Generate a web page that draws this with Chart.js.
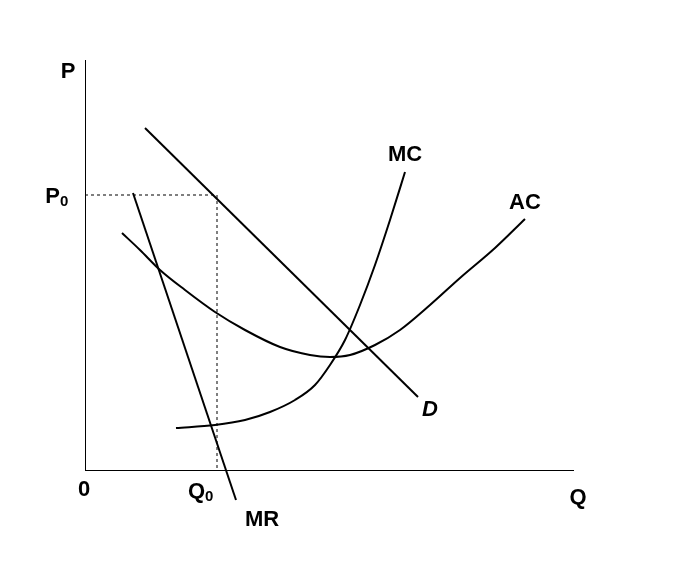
<!DOCTYPE html>
<html><head><meta charset="utf-8">
<script src="https://cdn.jsdelivr.net/npm/chart.js@4/dist/chart.umd.min.js"></script>
<style>html,body{margin:0;padding:0;background:#fff}#w{width:684px;height:570px}</style>
</head><body><div id="w"><canvas id="c"></canvas></div>
<script>
const demandPts=[[60,342],[333,73]];
const mrPts=[[48,277],[151,-30]];
const mcPts=[[91,42],[130,45],[160,50],[185,58],[210,70],[230,85],[245,105],[260,130],[275,165],[290,205],[305,250],[320,298]];
const acPts=[[37,237],[55,220],[75,200],[100,180],[130,158],[160,140],[195,123],[225,115],[245,113],[265,115],[290,125],[315,140],[345,165],[375,192],[410,222],[440,251]];
const p0=275, q0=132;
const labels=[
 {t:"P",x:-17,y:398},{t:"P",sub:"0",x:-25,y:273},{t:"0",x:-1,y:-20},
 {t:"Q",sub:"0",x:120,y:-22},{t:"MR",x:177,y:-50},{t:"Q",x:493,y:-28},
 {t:"MC",x:320,y:315},{t:"AC",x:440,y:267},{t:"D",x:345,y:60,it:true}
];
const toXY=a=>a.map(p=>({x:p[0],y:p[1]}));
const ds=(d,extra)=>Object.assign({data:toXY(d),borderColor:'#000',borderWidth:2,pointRadius:0,fill:false,clip:false},extra||{});
const lab={id:'lab',afterDatasetsDraw(ch){const c=ch.ctx,xs=ch.scales.x,ys=ch.scales.y;c.save();c.fillStyle='#000';c.textBaseline='middle';c.textAlign='center';
 for(const l of labels){const px=xs.getPixelForValue(l.x),py=ys.getPixelForValue(l.y);
  c.font=(l.it?'italic ':'')+'bold 22px "Liberation Sans", Arial';
  if(l.sub){c.textAlign='right';c.fillText(l.t,px,py);c.font='bold 15px "Liberation Sans", Arial';c.textAlign='left';c.fillText(l.sub,px,py+5);c.textAlign='center';}
  else c.fillText(l.t,px,py);}
 c.restore();}};
new Chart(document.getElementById('c'),{type:'line',
 data:{datasets:[
  ds(demandPts),ds(mrPts),ds(mcPts,{tension:0.4,cubicInterpolationMode:'monotone'}),ds(acPts,{tension:0.4,cubicInterpolationMode:'monotone'}),
  ds([[0,p0],[q0,p0]],{borderWidth:1,borderDash:[3,3]}),
  ds([[q0,p0],[q0,0]],{borderWidth:1,borderDash:[3,3]})
 ]},
 options:{responsive:true,maintainAspectRatio:false,animation:false,
  layout:{padding:{left:77,right:111,top:60,bottom:92}},
  plugins:{legend:{display:false},tooltip:{enabled:false}},
  scales:{
   x:{type:'linear',min:0,max:488,ticks:{display:false},grid:{display:false},border:{display:true,color:'#000',width:1}},
   y:{type:'linear',min:0,max:410,ticks:{display:false},grid:{display:false},border:{display:true,color:'#000',width:1}}
  }},
 plugins:[lab]});
</script></body></html>
